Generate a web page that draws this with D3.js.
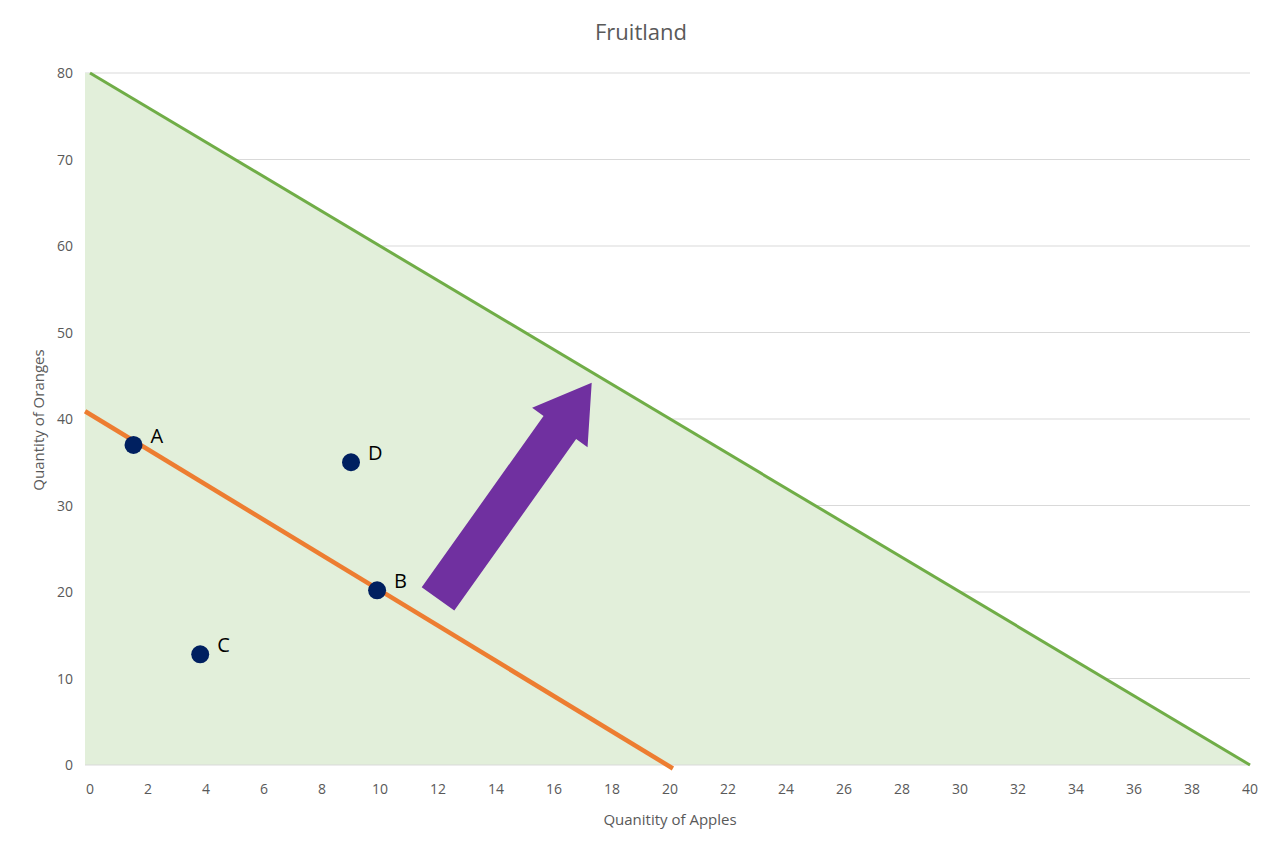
<!doctype html>
<html>
<head>
  <script src="https://d3js.org/d3.v7.min.js"></script>
  <style>
    body { margin: 0; background: #fff; }
    text { font-family: 'Open Sans', 'Liberation Sans', sans-serif; }
  </style>
</head>
<body>
  <svg width="1282" height="854"></svg>
  <script>
    var xTicks = d3.range(0, 41, 2);
    var yTicks = d3.range(0, 81, 10);
    var ppfNew = [[0, 80], [40, 0]];
    var ppfOld = [[-0.17, 40.9], [20.1, -0.4]];
    var points = [
      { label: "A", x: 1.5, y: 37 },
      { label: "B", x: 9.9, y: 20.2 },
      { label: "C", x: 3.8, y: 12.8 },
      { label: "D", x: 9, y: 35 }
    ];
    // shift arrow: tail centre -> tip
    var arrowFrom = [12.0, 19.2];
    var arrowTo = [17.3, 44.2];

    var svg = d3.select("svg");
    var x = d3.scaleLinear().domain([0, 40]).range([90, 1250]);
    var y = d3.scaleLinear().domain([0, 80]).range([765, 73]);

    // gridlines
    svg.append("g").selectAll("line").data(yTicks.slice(1)).enter().append("line")
      .attr("x1", 85).attr("x2", 1250)
      .attr("y1", d => y(d)).attr("y2", d => y(d))
      .attr("stroke", "#d9d9d9").attr("stroke-width", 1);

    // shaded region
    svg.append("path")
      .attr("d", d3.line()([[x(0) - 5, y(80)], [x(0), y(80)], [x(40), y(0)], [x(0) - 5, y(0)]]))
      .attr("fill", "#e2efda");

    // axis baseline
    svg.append("line").attr("x1", 85).attr("x2", 1250).attr("y1", y(0)).attr("y2", y(0))
      .attr("stroke", "#d9d9d9");

    svg.append("path").attr("d", d3.line().x(d => x(d[0])).y(d => y(d[1]))(ppfNew))
      .attr("stroke", "#70ad47").attr("stroke-width", 3).attr("fill", "none");
    svg.append("path").attr("d", d3.line().x(d => x(d[0])).y(d => y(d[1]))(ppfOld))
      .attr("stroke", "#ed7d31").attr("stroke-width", 4.5).attr("fill", "none");

    // arrow
    var p0 = [x(arrowFrom[0]), y(arrowFrom[1])], p1 = [x(arrowTo[0]), y(arrowTo[1])];
    var dx = p1[0] - p0[0], dy = p1[1] - p0[1], len = Math.hypot(dx, dy);
    var ux = dx / len, uy = dy / len, nx = -uy, ny = ux;
    var hw = 20, headW = 34, headL = 55;
    var bx = p1[0] - ux * headL, by = p1[1] - uy * headL;
    var poly = [
      [p0[0] + nx * hw, p0[1] + ny * hw], [bx + nx * hw, by + ny * hw],
      [bx + nx * headW, by + ny * headW], p1,
      [bx - nx * headW, by - ny * headW], [bx - nx * hw, by - ny * hw],
      [p0[0] - nx * hw, p0[1] - ny * hw]
    ];
    svg.append("polygon").attr("points", poly.map(p => p.join(",")).join(" "))
      .attr("fill", "#7030a0");

    // points
    svg.selectAll("circle.pt").data(points).enter().append("circle")
      .attr("cx", d => x(d.x)).attr("cy", d => y(d.y)).attr("r", 9)
      .attr("fill", "#002060");
    svg.selectAll("text.pl").data(points).enter().append("text")
      .attr("x", d => x(d.x) + 17).attr("y", d => y(d.y) - 2)
      .attr("font-size", 20).attr("fill", "#000").text(d => d.label);

    // tick labels
    svg.selectAll("text.xt").data(xTicks).enter().append("text")
      .attr("x", d => x(d)).attr("y", 794).attr("text-anchor", "middle")
      .attr("font-size", 14).attr("fill", "#595959").text(d => d);
    svg.selectAll("text.yt").data(yTicks).enter().append("text")
      .attr("x", 73).attr("y", d => y(d) + 5).attr("text-anchor", "end")
      .attr("font-size", 14).attr("fill", "#595959").text(d => d);

    svg.append("text").attr("x", 641).attr("y", 40).attr("text-anchor", "middle")
      .attr("font-size", 22).attr("fill", "#595959").text("Fruitland");
    svg.append("text").attr("x", 670).attr("y", 825).attr("text-anchor", "middle")
      .attr("font-size", 15).attr("fill", "#595959").text("Quanitity of Apples");
    svg.append("text").attr("transform", "translate(44,420) rotate(-90)").attr("text-anchor", "middle")
      .attr("font-size", 15).attr("fill", "#595959").text("Quantity of Oranges");
  </script>
</body>
</html>
